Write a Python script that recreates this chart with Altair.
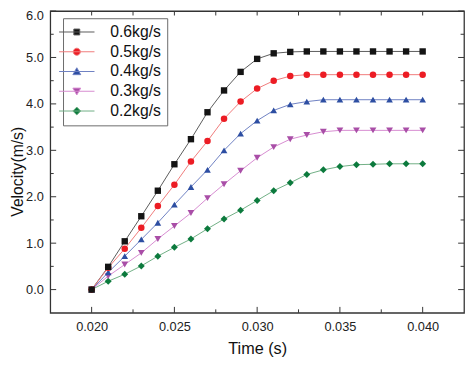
import altair as alt
import pandas as pd

times = [0.020, 0.021, 0.022, 0.023, 0.024, 0.025, 0.026, 0.027, 0.028, 0.029,
         0.030, 0.031, 0.032, 0.033, 0.034, 0.035, 0.036, 0.037, 0.038, 0.039, 0.040]
series = ["0.6kg/s", "0.5kg/s", "0.4kg/s", "0.3kg/s", "0.2kg/s"]
v06 = [0, 0.49, 1.04, 1.58, 2.13, 2.70, 3.24, 3.82, 4.29, 4.69, 4.97, 5.09, 5.12,
       5.13, 5.13, 5.13, 5.13, 5.13, 5.13, 5.13, 5.13]
v05 = [0, 0.47, 0.88, 1.33, 1.80, 2.26, 2.76, 3.20, 3.68, 4.05, 4.33, 4.50, 4.60,
       4.63, 4.63, 4.63, 4.63, 4.63, 4.63, 4.63, 4.63]
v04 = [0, 0.37, 0.72, 1.08, 1.44, 1.83, 2.21, 2.58, 3.00, 3.36, 3.64, 3.86, 3.99,
       4.05, 4.09, 4.09, 4.09, 4.09, 4.09, 4.09, 4.09]
v03 = [0, 0.29, 0.54, 0.79, 1.09, 1.37, 1.65, 1.97, 2.27, 2.56, 2.84, 3.07, 3.24,
       3.33, 3.40, 3.43, 3.43, 3.43, 3.43, 3.43, 3.43]
v02 = [0, 0.18, 0.33, 0.51, 0.72, 0.91, 1.09, 1.31, 1.52, 1.71, 1.92, 2.13, 2.30,
       2.48, 2.58, 2.65, 2.69, 2.70, 2.71, 2.71, 2.71]

x_major = [0.020, 0.025, 0.030, 0.035, 0.040]
x_minor = [0.0225, 0.0275, 0.0325, 0.0375]
y_major = [0, 1, 2, 3, 4, 5, 6]
y_minor = [0.5, 1.5, 2.5, 3.5, 4.5, 5.5]

marker_colors = ["#141414", "#ec1c24", "#2d4ea2", "#a94ea7", "#0c7a3d"]
line_colors = ["#5a5a5a", "#f07a7a", "#6d80c2", "#d68bd0", "#6fae84"]
marker_shapes = ["square", "circle", "triangle-up", "triangle-down", "diamond"]
marker_sizes = [42, 50, 55, 55, 55]
legend_paths = [
    "M-4.5,0H4.5M-0.75,-0.75H0.75V0.75H-0.75Z",
    "M-4.5,0H4.5M-0.9,0A0.9,0.9,0,1,1,0.9,0A0.9,0.9,0,1,1,-0.9,0Z",
    "M-4.5,0H4.5M0,-0.95L1,0.8L-1,0.8Z",
    "M-4.5,0H4.5M0,0.95L1,-0.8L-1,-0.8Z",
    "M-4.5,0H4.5M0,-1L1,0L0,1L-1,0Z",
]

rows = []
for k, (s, vals) in enumerate(zip(series, [v06, v05, v04, v03, v02])):
    for t, v in zip(times, vals):
        rows.append({"t": t, "v": v, "s": s, "o": 4 - k})
df = pd.DataFrame(rows)

W, H = 421, 307
FONT = "Liberation Sans"
x_scale = alt.Scale(domain=[0.0175, 0.0425], nice=False, zero=False)
y_scale = alt.Scale(domain=[-0.5, 6.0], nice=False, zero=False)

x_axis = alt.Axis(
    values=x_major, format=".3f", ticks=False, tickSize=0, domain=False, grid=False,
    labelFontSize=13, labelPadding=8, labelColor="#222", labelFont=FONT,
    title="Time (s)", titleFontSize=16.5, titleFontWeight="normal",
    titlePadding=7, titleColor="#111", titleFont=FONT)
y_axis = alt.Axis(
    values=y_major, format=".1f", ticks=False, tickSize=0, domain=False, grid=False,
    labelFontSize=13, labelPadding=7, labelColor="#222", labelFont=FONT,
    labelOffset={"condition": {"test": "datum.value == 6", "value": 5}, "value": 0},
    title="Velocity(m/s)", titleFontSize=16, titleFontWeight="normal",
    titleColor="#111", titleFont=FONT, titleX=-33, titleY=163, titleBaseline="middle")

def X():
    return alt.X("t:Q", scale=x_scale, axis=x_axis, title="Time (s)")

def Y():
    return alt.Y("v:Q", scale=y_scale, axis=y_axis, title="Velocity(m/s)")

lines = alt.Chart(df).mark_line(strokeWidth=1).encode(
    x=X(), y=Y(),
    color=alt.Color("s:N", scale=alt.Scale(domain=series, range=line_colors), legend=None),
    order=alt.Order("t:Q"),
)

points = alt.Chart(df).mark_point(filled=True, opacity=1, strokeWidth=0).encode(
    x=X(), y=Y(),
    fill=alt.Fill("s:N", scale=alt.Scale(domain=series, range=marker_colors), legend=None),
    shape=alt.Shape("s:N", scale=alt.Scale(domain=series, range=marker_shapes), legend=None),
    size=alt.Size("s:N", scale=alt.Scale(domain=series, range=marker_sizes), legend=None),
    order=alt.Order("o:Q"),
)

leg = dict(orient="none", legendX=13, legendY=7.3, padding=6, symbolSize=64,
           symbolStrokeWidth=1, labelFontSize=16, labelFont=FONT, labelColor="#111",
           labelOffset=26, rowPadding=4.1, strokeColor="#6a6a6a", fillColor="white",
           title=None, symbolOpacity=1)

legend_layer = alt.Chart(df).transform_filter("false").mark_point(filled=True, opacity=1).encode(
    x=X(), y=Y(),
    fill=alt.Fill("s:N", scale=alt.Scale(domain=series, range=marker_colors), legend=alt.Legend(**leg)),
    stroke=alt.Stroke("s:N", scale=alt.Scale(domain=series, range=line_colors), legend=alt.Legend(**leg)),
    shape=alt.Shape("s:N", scale=alt.Scale(domain=series, range=legend_paths), legend=alt.Legend(**leg)),
)

tick_color = "#333333"
def xticks(vals, y0, y1):
    return alt.Chart(pd.DataFrame({"t": vals})).mark_rule(color=tick_color, strokeWidth=1).encode(
        x=X(), y=alt.value(y0), y2=alt.value(y1))

def yticks(vals, x0, x1):
    return alt.Chart(pd.DataFrame({"v": vals})).mark_rule(color=tick_color, strokeWidth=1).encode(
        y=Y(), x=alt.value(x0), x2=alt.value(x1))

ticks = [
    xticks(x_major, H, H - 6),
    xticks(x_minor, H, H - 3.5),
    xticks(x_major + x_minor, 0, 4.5),
    yticks(y_major, 0, 6),
    yticks(y_minor, 0, 3.5),
    yticks(y_major, W, W - 6),
    yticks(y_minor, W, W - 3.5),
]

chart = alt.layer(lines, points, legend_layer, *ticks).resolve_scale(
    color="independent", fill="independent", shape="independent",
    size="independent", stroke="independent",
).properties(
    width=W, height=H,
    autosize=alt.AutoSizeParams(type="none"),
    padding={"left": 43, "top": 0, "right": 2, "bottom": 50},
    background="white",
).configure_view(stroke="#333333", strokeWidth=1.3)

chart.save("out.html", embed_options={"renderer": "svg", "actions": False})
